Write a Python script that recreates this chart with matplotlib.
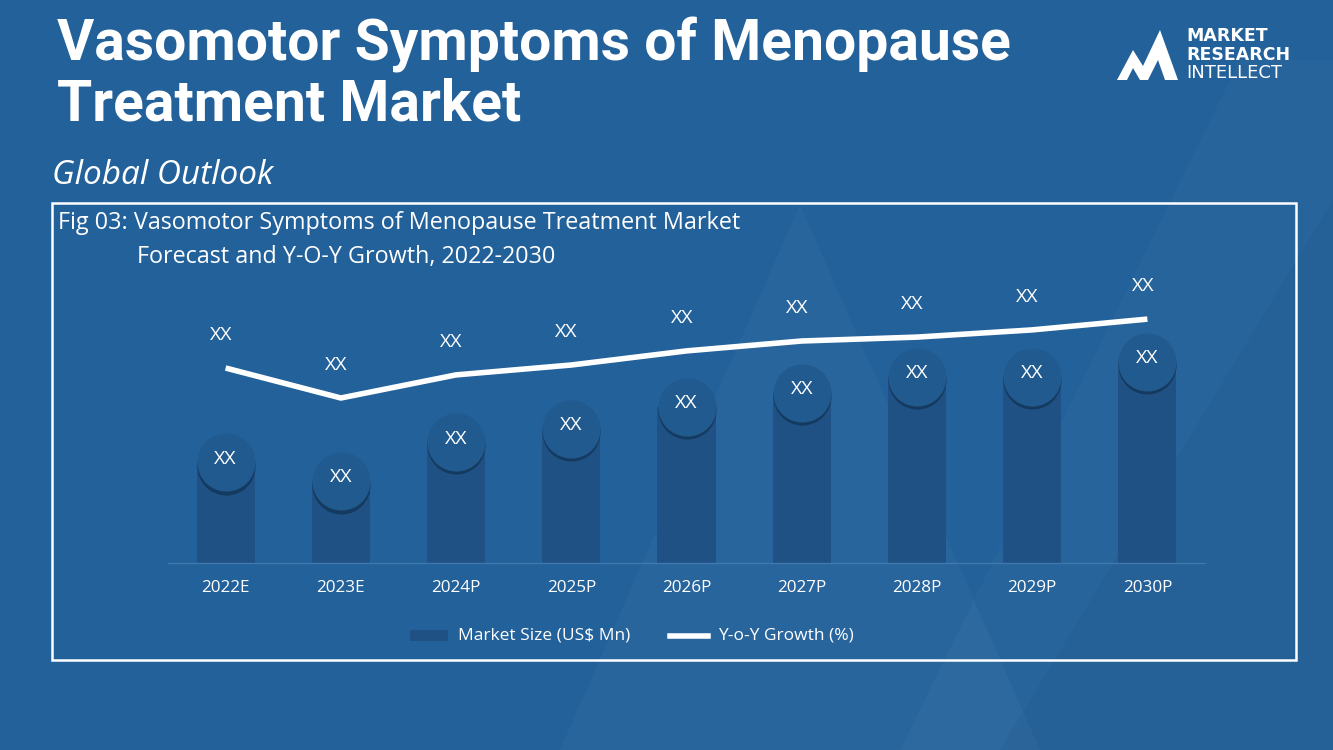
import matplotlib
matplotlib.use("Agg")
import matplotlib.pyplot as plt
from matplotlib.patches import Rectangle, Polygon
import numpy as np

# ---- data ----
years = ["2022E", "2023E", "2024P", "2025P", "2026P", "2027P", "2028P", "2029P", "2030P"]
market_size = [10.1, 8.2, 12.1, 13.4, 15.6, 17.0, 18.6, 18.6, 20.1]
yoy_growth = [6.5, 5.5, 6.27, 6.6, 7.07, 7.4, 7.53, 7.77, 8.13]
bar_labels = ["XX"] * len(years)
line_labels = ["XX"] * len(years)

BG = "#23619a"
BAR = "#1f5185"
CIRC = "#215a8f"
SHADOW = "#153a60"
W, H = 1333, 750

fig = plt.figure(figsize=(W / 100, H / 100), dpi=100)
fig.patch.set_facecolor(BG)

def fx(x): return x / W
def fy(y): return 1 - y / H

# faint watermark shapes
bgax = fig.add_axes([0, 0, 1, 1], zorder=0)
bgax.set_xlim(0, W); bgax.set_ylim(H, 0); bgax.axis("off")
bgax.add_patch(Polygon([(560, 750), (800, 205), (1040, 750)], closed=True, color="white", alpha=0.03, lw=0))
bgax.add_patch(Polygon([(900, 750), (1240, 60), (1333, 60), (1333, 750)], closed=True, color="white", alpha=0.02, lw=0))
bgax.add_patch(Polygon([(1000, 750), (1333, 200), (1333, 750)], closed=True, color="black", alpha=0.03, lw=0))

# frame
bgax.add_patch(Rectangle((52, 203), 1244, 457, fill=False, ec="white", lw=1.8))

# titles
fig.text(fx(57), fy(45), "Vasomotor Symptoms of Menopause", color="white", fontsize=41,
         fontweight="bold", family="Roboto", va="center", ha="left")
fig.text(fx(57), fy(105), "Treatment Market", color="white", fontsize=41,
         fontweight="bold", family="Roboto", va="center", ha="left")
fig.text(fx(52), fy(176), "Global Outlook", color="white", fontsize=24,
         style="italic", family="Open Sans", va="center", ha="left")
fig.text(fx(58), fy(223), "Fig 03: Vasomotor Symptoms of Menopause Treatment Market", color="white",
         fontsize=16.8, family="Open Sans", va="center", ha="left")
fig.text(fx(137), fy(257), "Forecast and Y-O-Y Growth, 2022-2030", color="white",
         fontsize=16.8, family="Open Sans", va="center", ha="left")

# logo
bgax.add_patch(Polygon([(1117, 80), (1133, 50), (1143, 66), (1160, 30), (1178, 80), (1165, 80),
                        (1158, 60), (1148, 80), (1140, 80), (1133, 68), (1127, 80)],
                       closed=True, color="white", lw=0))
fig.text(fx(1186), fy(36), "MARKET", color="white", fontsize=12.5, fontweight="bold",
         family="DejaVu Sans", va="center", ha="left")
fig.text(fx(1186), fy(55), "RESEARCH", color="white", fontsize=12.5, fontweight="bold",
         family="DejaVu Sans", va="center", ha="left")
fig.text(fx(1186), fy(73), "INTELLECT", color="white", fontsize=13,
         family="DejaVu Sans", va="center", ha="left")

# main axes
top_px, base_px = 280, 563
left_px, right_px = 168, 1205
ax = fig.add_axes([fx(left_px), fy(base_px), (right_px - left_px) / W, (base_px - top_px) / H], zorder=2)
ax.set_facecolor("none")
x = np.arange(len(years))
ax.set_xlim(-0.5, len(years) - 0.5)
ax.set_ylim(0, (base_px - top_px) / 10)
ax.bar(x, market_size, width=0.505, color=BAR, zorder=2)
ax.scatter(x, np.array(market_size) - 0.35, s=1750, color=SHADOW, zorder=3, lw=0)
ax.scatter(x, market_size, s=1750, color=CIRC, zorder=4, lw=0)
for xi, v, lab in zip(x, market_size, bar_labels):
    ax.text(xi, v + 0.35, lab, color="white", fontsize=14, ha="center", va="center", zorder=5,
            family="Open Sans")
for s in ["top", "right", "left"]:
    ax.spines[s].set_visible(False)
ax.spines["bottom"].set_color("#3f79ad")
ax.spines["bottom"].set_linewidth(1)
ax.set_yticks([])
ax.set_xticks(x)
ax.set_xticklabels(years, color="white", fontsize=12.3, family="Open Sans")
ax.tick_params(axis="x", length=0, pad=12)

ax2 = ax.twinx()
ax2.set_ylim(0, (base_px - top_px) / 30)
ax2.plot(x, yoy_growth, color="white", lw=4, zorder=6, solid_capstyle="butt")
for xi, v, lab in zip(x, yoy_growth, line_labels):
    ax2.text(xi - 0.04, v + 1.1, lab, color="white", fontsize=14, ha="center", va="center",
             family="Open Sans")
ax2.set_yticks([])
for s in ax2.spines.values():
    s.set_visible(False)

# legend
bgax.add_patch(Rectangle((410, 630), 38, 11, color=BAR, lw=0))
fig.text(fx(458), fy(636), "Market Size (US$ Mn)", color="white", fontsize=12.5,
         family="Open Sans", va="center", ha="left")
bgax.plot([670, 708], [636, 636], color="white", lw=4)
fig.text(fx(718), fy(636), "Y-o-Y Growth (%)", color="white", fontsize=12.5,
         family="Open Sans", va="center", ha="left")

fig.savefig("out.png", dpi=100, facecolor=BG)
